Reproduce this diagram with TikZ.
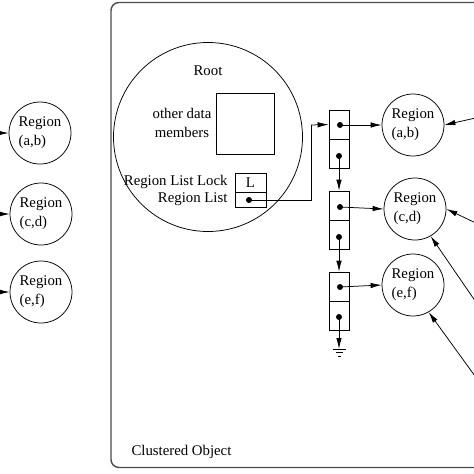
\documentclass[tikz,border=0pt]{standalone}
\usepackage{fontspec}
\setmainfont{Liberation Serif}
\usetikzlibrary{arrows.meta}
\begin{document}
\begin{tikzpicture}[x=1pt,y=-1pt,
  every node/.style={font=\fontsize{14.8}{19}\selectfont},
  region/.style={draw,circle,minimum size=62pt,inner sep=0pt,align=left,line width=0.75pt},
  cell/.style={draw,rectangle,minimum width=20pt,minimum height=29pt,inner sep=0pt,line width=0.75pt},
  dotc/.style={circle,fill,inner sep=0pt,minimum size=6pt},
  arr/.style={-{Latex[length=11pt,width=5.5pt]},line width=0.75pt},
  conn/.style={line width=0.75pt}]
\useasboundingbox (0,0) rectangle (474,474);
% outer cluster box
\draw[gray!60!black,line width=1.4pt,rounded corners=8pt] (480,2.5) -- (111,2.5) -- (111,467.5) -- (480,467.5);
\node[anchor=west] (cl) at (128,452) {Clustered Object};
% left regions
\node[region] (lab) at (40,133) {Region\\(a,b)};
\node[region] (lcd) at (41,214) {Region\\(c,d)};
\node[region] (lef) at (41,292) {Region\\(e,f)};
\coordinate (la1) at (-5,133);
\coordinate (la2) at (-5,214);
\coordinate (la3) at (-5,292);
\draw[arr] (la1) -- (lab.west);
\draw[arr] (la2) -- (lcd.west);
\draw[arr] (la3) -- (lef.west);
% root
\node[draw,circle,minimum size=189pt,inner sep=0pt,line width=0.75pt] (root) at (208,137) {};
\node (rootlbl) at (208,71) {Root};
\node[align=center] (odm) at (182,123) {other data\\members};
\node[draw,rectangle,minimum width=58pt,minimum height=61pt,inner sep=0pt,line width=0.75pt] (sq) at (245,123.5) {};
\node[cell,minimum width=31pt,minimum height=19pt] (lock) at (250.5,182.5) {L};
\node[cell,minimum width=31pt,minimum height=15pt] (rlist) at (250.5,199.5) {};
\node[anchor=east] (lockl) at (231,182) {Region List Lock};
\node[anchor=east] (rlistl) at (231,199) {Region List};
\node[dotc] (rd) at (249,200) {};
% list cells
\node[cell] (c1a) at (339,124.5) {};
\node[cell] (c1b) at (339,153.5) {};
\node[cell] (c2a) at (339,205.5) {};
\node[cell] (c2b) at (339,234.5) {};
\node[cell] (c3a) at (339,286.5) {};
\node[cell] (c3b) at (339,315.5) {};
\node[dotc] (d1a) at (340,125) {};
\node[dotc] (d1b) at (339,156) {};
\node[dotc] (d2a) at (340,207) {};
\node[dotc] (d2b) at (339,237) {};
\node[dotc] (d3a) at (340,287) {};
\node[dotc] (d3b) at (339,317) {};
\coordinate (gnd) at (339,349);
\draw[conn] (rd.center) -| (311,200) |- (311,125) coordinate (bend);
\draw[arr] (bend) -- (c1a.west);
\draw[arr] (d1b.center) -- (c2a.north);
\draw[arr] (d2b.center) -- (c3a.north);
\draw[arr] (d3b.center) -- (gnd);
\draw[conn] ([xshift=-6.5pt]gnd) -- ([xshift=6.5pt]gnd);
\draw[conn] ([xshift=-3.5pt,yshift=-3.5pt]gnd) -- ([xshift=3.5pt,yshift=-3.5pt]gnd);
\draw[conn] ([xshift=-1.5pt,yshift=-7pt]gnd) -- ([xshift=1.5pt,yshift=-7pt]gnd);
% right regions
\node[region] (rab) at (413,125) {Region\\(a,b)};
\node[region] (rcd) at (415,209) {Region\\(c,d)};
\node[region] (ref) at (413,285) {Region\\(e,f)};
\draw[arr] (d1a.center) -- (rab.west);
\draw[arr] (d2a.center) -- (rcd.west);
\draw[arr] (d3a.center) -- (ref.west);
\coordinate (ra1) at (480,117);
\coordinate (ra2) at (480,225);
\coordinate (ra3) at (480,308);
\coordinate (ra4) at (480,383);
\draw[arr] (ra1) -- (rab.east);
\draw[arr] (ra2) -- (rcd.east);
\draw[arr] (ra3) -- (rcd.-60);
\draw[arr] (ra4) -- (ref.-60);
\end{tikzpicture}
\end{document}
